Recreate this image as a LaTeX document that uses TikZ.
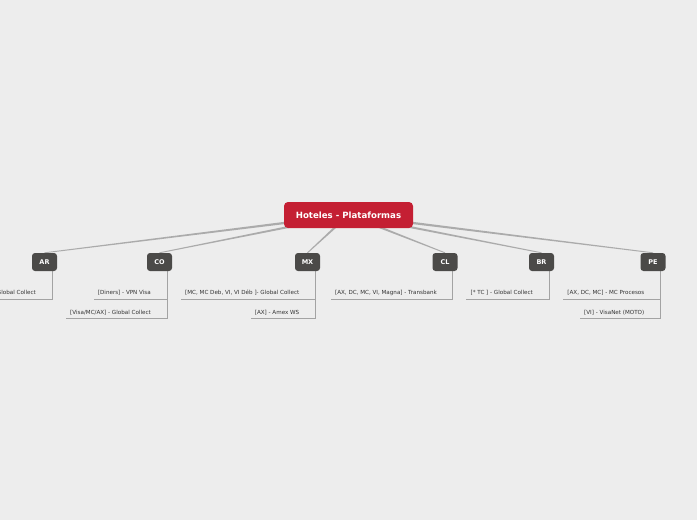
\documentclass[tikz,border=0pt]{standalone}
\usepackage{fontspec}
\setmainfont{DejaVu Sans}
\usetikzlibrary{calc}
\pgfdeclarelayer{back}
\pgfsetlayers{back,main}
\definecolor{bgc}{HTML}{EDEDED}
\definecolor{rootred}{HTML}{C41F33}
\definecolor{subgray}{HTML}{4B4A48}
\definecolor{linkgray}{HTML}{ABABAB}
\definecolor{leafgray}{HTML}{A3A3A3}
\definecolor{leaftext}{HTML}{333333}
\tikzset{
  rootbox/.style={fill=rootred, rounded corners=4pt, text=white, font=\fontsize{8.6}{10}\selectfont\bfseries, minimum width=129pt, minimum height=26pt, inner sep=0pt},
  subbox/.style={fill=subgray, rounded corners=3pt, text=white, font=\fontsize{6.5}{8}\selectfont\bfseries, minimum width=25pt, minimum height=18pt, inner sep=0pt},
  leaf/.style={font=\fontsize{5.6}{7}\selectfont, text=leaftext, inner sep=0pt},
  leafline/.style={draw=leafgray, line width=0.9pt},
}
\newcommand\taper[2]{\fill[linkgray] ($(#1)!1.3pt!90:(#2)$) -- ($(#1)!1.3pt!-90:(#2)$) -- ($(#2)!0.45pt!90:(#1)$) -- ($(#2)!0.45pt!-90:(#1)$) -- cycle;}
\begin{document}
\begin{tikzpicture}[x=1pt,y=-1pt]
\useasboundingbox (0,0) rectangle (697,520);
% nodes
\node[rootbox] (root) at (348.5,215) {Hoteles - Plataformas};
\node[subbox] (ar) at (44.5,262) {AR};
\node[subbox] (co) at (159.5,262) {CO};
\node[subbox] (mx) at (307.5,262) {MX};
\node[subbox] (cl) at (445,262) {CL};
\node[subbox] (br) at (541.5,262) {BR};
\node[subbox] (pe) at (653,262) {PE};
% vertical start points
\foreach \n in {ar,co,mx,cl,br,pe}{\coordinate (\n v) at ($(\n.south)+(7.5,0)$);}
% leaves
\node[leaf, anchor=base east] (ar1) at (36,294.7) {Global Collect};
\node[leaf, anchor=base east] (co1) at (151,294.7) {[Diners] - VPN Visa};
\node[leaf, anchor=base east] (co2) at (151,314.4) {[Visa/MC/AX] - Global Collect};
\node[leaf, anchor=base east] (mx1) at (299.5,294.7) {[MC, MC Deb, VI, VI Déb ]- Global Collect};
\node[leaf, anchor=base east] (mx2) at (299.5,314.4) {[AX] - Amex WS};
\node[leaf, anchor=base east] (cl1) at (437,294.7) {[AX, DC, MC, VI, Magna] - Transbank};
\node[leaf, anchor=base east] (br1) at (533,294.7) {[* TC ] - Global Collect};
\node[leaf, anchor=base east] (pe1) at (644.5,294.7) {[AX, DC, MC] - MC Procesos};
\node[leaf, anchor=base east] (pe2) at (644.5,314.4) {[VI] - VisaNet (MOTO)};
\begin{pgfonlayer}{back}
  \fill[bgc] (0,0) rectangle (697,520);
  \foreach \n in {ar,co,mx,cl,br,pe}{\taper{root.center}{\n.north}}
  \draw[leafline] (arv) |- ($(ar1.base west)+(-40,4.3)$);
  \draw[leafline] (cov) |- ($(co1.base west)+(-4,4.3)$);
  \draw[leafline] (cov) |- ($(co2.base west)+(-4,4.3)$);
  \draw[leafline] (mxv) |- ($(mx1.base west)+(-4,4.3)$);
  \draw[leafline] (mxv) |- ($(mx2.base west)+(-4,4.3)$);
  \draw[leafline] (clv) |- ($(cl1.base west)+(-4,4.3)$);
  \draw[leafline] (brv) |- ($(br1.base west)+(-4,4.3)$);
  \draw[leafline] (pev) |- ($(pe1.base west)+(-4,4.3)$);
  \draw[leafline] (pev) |- ($(pe2.base west)+(-4,4.3)$);
\end{pgfonlayer}
\end{tikzpicture}
\end{document}
